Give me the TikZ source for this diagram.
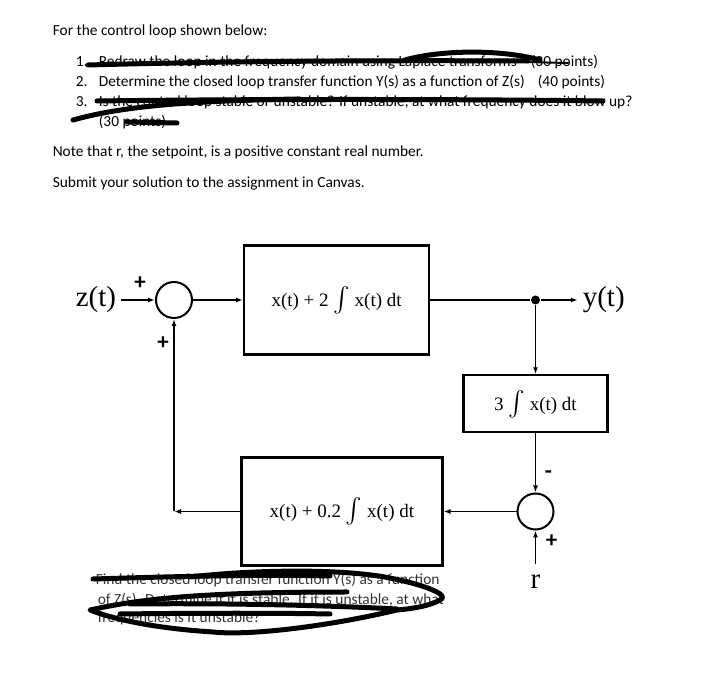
\documentclass[tikz,border=0pt]{standalone}
\usepackage{exscale}
\usepackage{fontspec}
\setmainfont{Carlito}
\newfontfamily\tms{Liberation Serif}
\usetikzlibrary{positioning, arrows.meta, calc}
\newcommand{\intsym}{{\fontsize{24}{24}\selectfont$\int$}}

\begin{document}
\begin{tikzpicture}[x=1pt, y=1pt, >={Latex[length=7pt,width=5pt]}, line width=1.6pt,
  blk/.style={draw, line width=2.2pt, inner sep=0pt, font=\tms\fontsize{19}{22}\selectfont},
  sum/.style={draw, circle, minimum size=36pt, inner sep=0pt, line width=2pt},
  sig/.style={inner sep=0pt, font=\bfseries\fontsize{23}{25}\selectfont},
  var/.style={inner sep=5pt, outer sep=0pt, font=\tms\fontsize{29}{32}\selectfont},
  txt/.style={anchor=base west, inner sep=0pt, font=\fontsize{15.4}{18}\selectfont},
  low/.style={txt, text=black!80},
  scrib/.style={line width=5pt, line cap=round, line join=round}]
  \useasboundingbox (0,0) rectangle (712,696);
  \node[txt] (head) at (52,660) {For the control loop shown below:};
  \node[txt] (n1) at (75,629) {1.};
  \node[txt] (q1) at (98,629) {Redraw the loop in the frequency domain using Laplace transforms};
  \node[txt] (p1) at (530,629) {(30 points)};
  \node[txt] (n2) at (75,609) {2.};
  \node[txt] (q2) at (98,609) {Determine the closed loop transfer function Y(s) as a function of Z(s)};
  \node[txt] (p2) at (537,609) {(40 points)};
  \node[txt] (n3) at (75,589) {3.};
  \node[txt] (q3) at (98,589) {Is the control loop stable or unstable? If unstable, at what frequency does it blow up?};
  \node[txt] (p3) at (98,569) {(30 points)};
  \node[txt] (note) at (52,539) {Note that r, the setpoint, is a positive constant real number.};
  \node[txt] (sub) at (52,508) {Submit your solution to the assignment in Canvas.};

  \node[sum] (sum1) at (174,396) {};
  \node[var, left=34pt of sum1] (zt) {z(t)};
  \node[blk, minimum width=185pt, minimum height=109pt, right=50pt of sum1] (plant) {x(t) + 2 \intsym\ x(t) dt};
  \node[circle, fill, inner sep=0pt, minimum size=9pt, right=100pt of plant] (tap) {};
  \node[var, right=37pt of tap] (yt) {y(t)};
  \node[blk, minimum width=144pt, minimum height=57pt, below=69pt of tap] (sens) {3 \intsym\ x(t) dt};
  \node[sum, below=59pt of sens] (sum2) {};
  \node[var, inner sep=10pt, below=34pt of sum2] (r) {r};
  \node[blk, minimum width=201pt, minimum height=108pt, left=73pt of sum2] (ctrl) {x(t) + 0.2 \intsym\ x(t) dt};
  \coordinate (fb) at (sum1 |- ctrl);
  \node[sig] (s1) at ($(sum1)+(-34,17)$) {+};
  \node[sig] (s2) at ($(sum1)+(-11,-43)$) {+};
  \node[sig] (s3) at ($(sum2)+(13,37)$) {-};
  \node[sig] (s4) at ($(sum2)+(16,-30)$) {+};
  \draw[->] (zt) -- (sum1);
  \draw[->] (sum1) -- (plant);
  \draw (plant) -- (tap);
  \draw[->] (tap) -- (yt);
  \draw[->] (tap) -- (sens);
  \draw[->] (sens) -- (sum2);
  \draw[->] (r) -- (sum2);
  \draw[->] (sum2) -- (ctrl);
  \draw[->] (ctrl) -- (fb);
  \draw[->] (fb) -- (sum1);

  \node[low] (b1) at (95,111) {Find the closed loop transfer function Y(s) as a function};
  \node[low] (b2) at (97,91) {of Z(s). Determine if it is stable. If it is unstable, at what};
  \node[low] (b3) at (97,73) {frequencies is it unstable?};

  \draw[scrib] (88,631) .. controls (200,634) and (330,636) .. (528,635);
  \draw[scrib] (405,636) .. controls (440,646) and (500,647) .. (540,636);
  \draw[scrib, line width=2pt] (525,634) -- (568,633);
  \draw[scrib] (97,595) .. controls (250,597) and (450,597) .. (603,595);
  \draw[scrib] (73,576) .. controls (110,586) and (160,595) .. (300,597);
  \draw[scrib] (127,574) -- (177,573);
  \draw[scrib] (93,117) .. controls (160,119) and (260,122) .. (330,120);
  \draw[scrib] (190,119) .. controls (250,126) and (340,128) .. (390,118)
    .. controls (430,110) and (450,100) .. (440,96)
    .. controls (430,90) and (410,87) .. (397,86)
    .. controls (330,70) and (250,60) .. (213,64)
    .. controls (150,68) and (110,78) .. (90,86)
    .. controls (140,97) and (200,104) .. (347,104);
  \draw[scrib] (130,92) .. controls (220,93) and (320,91) .. (397,87);
  \draw[scrib] (120,82) .. controls (200,83) and (280,83) .. (330,82);
\end{tikzpicture}
\end{document}
